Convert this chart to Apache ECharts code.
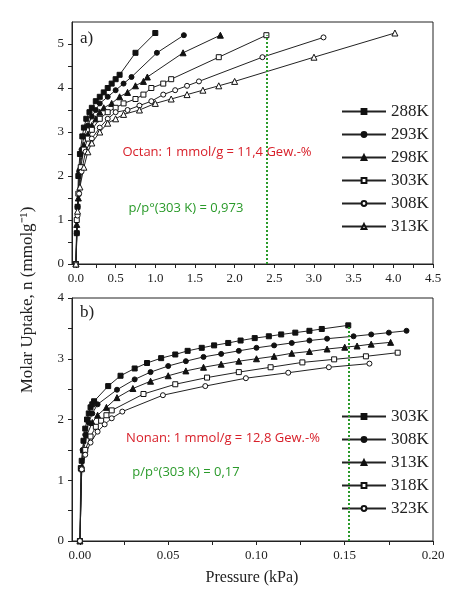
<!DOCTYPE html>
<html>
<head>
<meta charset="utf-8">
<script src="https://cdn.jsdelivr.net/npm/echarts@6/dist/echarts.min.js"></script>
<style>html,body{margin:0;padding:0;background:#fff}#c{width:474px;height:594px}</style>
</head>
<body>
<div id="c"></div>
<script>
// Oktan-Isothermen (a)
var namesA = ['288K','293K','298K','303K','308K','313K'];
var s288 = [[0,0],[0.01,0.7],[0.02,1.3],[0.03,2.0],[0.05,2.5],[0.08,2.9],[0.1,3.1],[0.13,3.3],[0.17,3.45],[0.2,3.55],[0.25,3.7],[0.3,3.8],[0.35,3.9],[0.4,4.0],[0.45,4.1],[0.5,4.2],[0.55,4.3],[0.75,4.8],[1.0,5.25]];
var s293 = [[0,0],[0.01,0.7],[0.02,1.3],[0.04,2.1],[0.07,2.6],[0.1,2.9],[0.15,3.15],[0.2,3.35],[0.25,3.5],[0.3,3.65],[0.4,3.8],[0.5,3.95],[0.6,4.1],[0.7,4.25],[1.02,4.8],[1.36,5.2]];
var s298 = [[0,0],[0.01,0.9],[0.03,1.5],[0.05,2.2],[0.1,2.7],[0.15,2.95],[0.2,3.15],[0.25,3.3],[0.3,3.45],[0.35,3.55],[0.45,3.65],[0.55,3.8],[0.65,3.9],[0.75,4.05],[0.85,4.15],[0.9,4.25],[1.35,4.8],[1.82,5.2]];
var s303 = [[0,0],[0.01,1.0],[0.03,1.6],[0.06,2.2],[0.1,2.6],[0.15,2.85],[0.2,3.05],[0.3,3.3],[0.4,3.45],[0.5,3.55],[0.6,3.65],[0.75,3.75],[0.85,3.85],[0.95,4.0],[1.1,4.1],[1.2,4.2],[1.8,4.7],[2.4,5.2]];
var s308 = [[0,0],[0.02,1.1],[0.04,1.6],[0.07,2.1],[0.12,2.55],[0.2,2.85],[0.3,3.1],[0.4,3.3],[0.5,3.45],[0.65,3.5],[0.8,3.6],[0.95,3.7],[1.1,3.85],[1.25,3.95],[1.4,4.05],[1.55,4.15],[2.35,4.7],[3.12,5.15]];
var s313 = [[0,0],[0.02,1.2],[0.05,1.75],[0.1,2.2],[0.15,2.55],[0.2,2.75],[0.3,3.0],[0.4,3.2],[0.5,3.3],[0.6,3.4],[0.8,3.5],[1.0,3.65],[1.2,3.75],[1.4,3.85],[1.6,3.95],[1.8,4.05],[2.0,4.15],[3.0,4.7],[4.02,5.25]];
// Nonan-Isothermen (b)
var namesB = ['303K','308K','313K','318K','323K'];
var n303 = [[0,0],[0.0005,1.2],[0.001,1.32],[0.002,1.65],[0.003,1.85],[0.004,2.0],[0.005,2.1],[0.006,2.2],[0.007,2.25],[0.008,2.3],[0.016,2.55],[0.023,2.72],[0.031,2.84],[0.038,2.93],[0.046,3.01],[0.054,3.07],[0.061,3.13],[0.069,3.18],[0.076,3.22],[0.084,3.26],[0.091,3.3],[0.099,3.34],[0.107,3.37],[0.114,3.4],[0.122,3.43],[0.13,3.46],[0.137,3.49],[0.152,3.55]];
var n308 = [[0,0],[0.0008,1.2],[0.0015,1.5],[0.003,1.75],[0.005,1.95],[0.007,2.1],[0.01,2.25],[0.021,2.49],[0.031,2.66],[0.04,2.78],[0.05,2.88],[0.06,2.96],[0.07,3.03],[0.08,3.08],[0.09,3.13],[0.1,3.18],[0.11,3.22],[0.12,3.26],[0.13,3.3],[0.14,3.33],[0.155,3.37],[0.165,3.4],[0.175,3.43],[0.185,3.46]];
var n313 = [[0,0],[0.001,1.2],[0.002,1.5],[0.004,1.75],[0.007,1.95],[0.01,2.07],[0.015,2.2],[0.021,2.36],[0.03,2.51],[0.04,2.63],[0.05,2.72],[0.06,2.8],[0.07,2.86],[0.08,2.91],[0.09,2.96],[0.1,3.0],[0.11,3.04],[0.12,3.09],[0.13,3.12],[0.14,3.16],[0.15,3.19],[0.157,3.21],[0.165,3.24],[0.176,3.27]];
var n318 = [[0,0],[0.001,1.18],[0.003,1.5],[0.006,1.72],[0.009,1.88],[0.012,1.98],[0.015,2.07],[0.018,2.15],[0.036,2.42],[0.054,2.58],[0.072,2.69],[0.09,2.78],[0.108,2.86],[0.126,2.94],[0.144,2.99],[0.162,3.04],[0.18,3.1]];
var n323 = [[0,0],[0.001,1.18],[0.003,1.42],[0.006,1.62],[0.01,1.8],[0.014,1.92],[0.018,2.02],[0.024,2.13],[0.047,2.4],[0.071,2.55],[0.094,2.68],[0.118,2.77],[0.141,2.86],[0.164,2.92]];

var ticksA = [0,0.5,1,1.5,2,2.5,3,3.5,4,4.5];
var ticksB = [0,0.05,0.10,0.15,0.20];
var yTicksA = [0,1,2,3,4,5];
var yTicksB = [0,1,2,3,4];

var serif = 'Liberation Serif';
var symA = ['rect','circle','triangle','rect','circle','triangle'];
var filledA = [true,true,true,false,false,false];
var symB = ['rect','circle','triangle','rect','circle'];
var filledB = [true,true,true,false,false];

function half(arr){ var r=[]; for(var i=0;i<arr.length-1;i++){ r.push(arr[i]); r.push((arr[i]+arr[i+1])/2);} r.push(arr[arr.length-1]); return r; }

function xAx(idx, min, max, ticks, dec){
  return {gridIndex:idx, type:'value', min:min, max:max,
    axisLine:{onZero:false, lineStyle:{color:'#222'}},
    axisTick:{inside:false, length:4, customValues:half(ticks), lineStyle:{color:'#222'}},
    axisLabel:{customValues:ticks, color:'#222', fontFamily:serif, fontSize:13, formatter:function(v){return v.toFixed(dec);}},
    splitLine:{show:false}};
}
function yAx(idx, min, max, ticks){
  return {gridIndex:idx, type:'value', min:min, max:max,
    axisLine:{onZero:false, lineStyle:{color:'#222'}},
    axisTick:{length:4, customValues:half(ticks), lineStyle:{color:'#222'}},
    axisLabel:{customValues:ticks, color:'#222', fontFamily:serif, fontSize:13},
    splitLine:{show:false}};
}
function mk(name, data, idx, sym, filled){
  return {name:name, type:'line', xAxisIndex:idx, yAxisIndex:idx, data:data,
    symbol:sym, symbolSize:sym==='triangle'?6:5, showAllSymbol:true,
    lineStyle:{color:'#222', width:1}, itemStyle:{color:filled?'#111':'#fff', borderColor:'#111', borderWidth:1}};
}

var series = [];
var dA=[s288,s293,s298,s303,s308,s313];
for(var i=0;i<6;i++) series.push(mk(namesA[i], dA[i], 0, symA[i], filledA[i]));
var dB=[n303,n308,n313,n318,n323];
// Panel b bekommt eigene Seriennamen (gleiche Temperaturen wie in a)
var legB = namesB.map(function(n){return 'b'+n;});
for(var j=0;j<5;j++) series.push(mk(legB[j], dB[j], 1, symB[j], filledB[j]));
// gruene Markierungslinien
series[3].markLine = {silent:true, symbol:'none', label:{show:false}, lineStyle:{color:'#2a9a2a', type:'dotted', width:2}, data:[[{coord:[2.4,0]},{coord:[2.4,5.2]}]]};
series[6].markLine = {silent:true, symbol:'none', label:{show:false}, lineStyle:{color:'#2a9a2a', type:'dotted', width:2}, data:[[{coord:[0.152,0]},{coord:[0.152,3.55]}]]};

var legTxt = {fontFamily:serif, fontSize:17, color:'#222'};
var chart = echarts.init(document.getElementById('c'));
chart.setOption({
  animation:false,
  grid:[{left:72, top:22, width:361, height:242, show:true, borderColor:'#222', borderWidth:1},
        {left:72, top:298, width:361, height:243, show:true, borderColor:'#222', borderWidth:1}],
  xAxis:[xAx(0,-0.05,4.5,ticksA,1), xAx(1,-0.0045,0.2,ticksB,2)],
  yAxis:[yAx(0,0,5.5,yTicksA), yAx(1,0,4,yTicksB)],
  legend:[{data:namesA, orient:'vertical', left:336, top:98, itemGap:6, itemWidth:44, itemHeight:6, textStyle:legTxt},
          {data:legB, orient:'vertical', left:336, top:403, itemGap:6, itemWidth:44, itemHeight:6, textStyle:legTxt,
           formatter:function(n){return n.slice(1);}}],
  graphic:[
    {type:'text', left:80, top:30, style:{text:'a)', font:'17px '+serif, fill:'#222'}},
    {type:'text', left:80, top:304, style:{text:'b)', font:'17px '+serif, fill:'#222'}},
    {type:'text', x:217, y:152, style:{text:'Octan: 1 mmol/g = 11,4 Gew.-%', font:'13px "Open Sans"', fill:'#d8202a', align:'center', verticalAlign:'middle'}},
    {type:'text', x:186, y:208, style:{text:'p/p°(303 K) = 0,973', font:'13px "Open Sans"', fill:'#2a9a2a', align:'center', verticalAlign:'middle'}},
    {type:'text', x:223, y:438, style:{text:'Nonan: 1 mmol/g = 12,8 Gew.-%', font:'13px "Open Sans"', fill:'#d8202a', align:'center', verticalAlign:'middle'}},
    {type:'text', x:186, y:472, style:{text:'p/p°(303 K) = 0,17', font:'13px "Open Sans"', fill:'#2a9a2a', align:'center', verticalAlign:'middle'}},
    {type:'text', x:28, y:300, rotation:Math.PI/2, style:{text:'Molar Uptake, n (mmolg\u207B\u00B9)', font:'17px '+serif, fill:'#222', align:'center', verticalAlign:'middle'}},
    {type:'text', x:252, y:578, style:{text:'Pressure (kPa)', font:'16px '+serif, fill:'#222', align:'center', verticalAlign:'middle'}}
  ],
  series:series
});
</script>
</body>
</html>
